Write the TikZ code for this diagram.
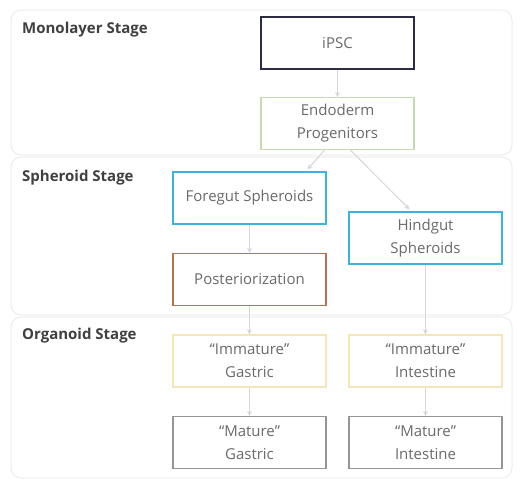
\documentclass[tikz,border=0pt]{standalone}
\usepackage{fontspec}
\setmainfont{Open Sans}
\usetikzlibrary{arrows.meta}
\definecolor{panelc}{HTML}{EDEDED}
\definecolor{arrc}{HTML}{D6D6D6}
\definecolor{txtc}{HTML}{6A6A6A}
\definecolor{titlec}{HTML}{404040}
\definecolor{navyc}{HTML}{2B2B45}
\definecolor{greenc}{HTML}{C3DBAE}
\definecolor{cyanc}{HTML}{3DB2DA}
\definecolor{brownc}{HTML}{B5744C}
\definecolor{yellowc}{HTML}{F7E6B5}
\definecolor{greyc}{HTML}{959595}
\begin{document}
\begin{tikzpicture}[x=1pt,y=-1pt,
  panel/.style={draw=panelc,line width=1pt,rounded corners=10pt,fill=white},
  stagetitle/.style={anchor=north west,inner sep=0pt,font=\fontsize{15}{17}\selectfont\bfseries,text=titlec},
  stepbox/.style={draw,line width=1.3pt,minimum width=153pt,minimum height=52pt,inner sep=2pt,align=center,
    font=\fontsize{15}{23}\selectfont,text=txtc,fill=white},
  conn/.style={draw=arrc,line width=1pt,-{Stealth[length=5pt,width=5pt]}}]
\useasboundingbox (0,0) rectangle (524,488);
\fill[white] (0,0) rectangle (524,488);
% panels
\draw[panel] (11,10) rectangle (512,155);
\draw[panel] (11,157) rectangle (512,315);
\draw[panel] (11,317) rectangle (512,478);
\node[stagetitle] (t1) at (22,22) {Monolayer Stage};
\node[stagetitle] (t2) at (22,170) {Spheroid Stage};
\node[stagetitle] (t3) at (22,328) {Organoid Stage};
% boxes
\node[stepbox,draw=navyc] (ipsc) at (337.5,43) {iPSC};
\node[stepbox,draw=greenc] (endo) at (337.5,123.5) {Endoderm\\Progenitors};
\node[stepbox,draw=cyanc] (fore) at (249.5,198) {Foregut Spheroids};
\node[stepbox,draw=cyanc] (hind) at (425.5,238) {Hindgut\\Spheroids};
\node[stepbox,draw=brownc] (post) at (249.5,279.5) {Posteriorization};
\node[stepbox,draw=yellowc] (ig) at (249.5,361) {\char"201CImmature\char"201D\\Gastric};
\node[stepbox,draw=yellowc] (ii) at (425.5,361) {\char"201CImmature\char"201D\\Intestine};
\node[stepbox,draw=greyc] (mg) at (249.5,442.5) {\char"201CMature\char"201D\\Gastric};
\node[stepbox,draw=greyc] (mi) at (425.5,442.5) {\char"201CMature\char"201D\\Intestine};
% connectors
\draw[conn] ([xshift=-13pt]endo.south) -- ([xshift=58pt,yshift=2pt]fore.north);
\draw[conn] ([xshift=13pt]endo.south) -- ([xshift=-16pt,yshift=2pt]hind.north);
\draw[conn] (ipsc) -- (endo);
\draw[conn] (fore) -- (post);
\draw[conn] (post) -- (ig);
\draw[conn] (hind) -- (ii);
\draw[conn] (ig) -- (mg);
\draw[conn] (ii) -- (mi);
\end{tikzpicture}
\end{document}
